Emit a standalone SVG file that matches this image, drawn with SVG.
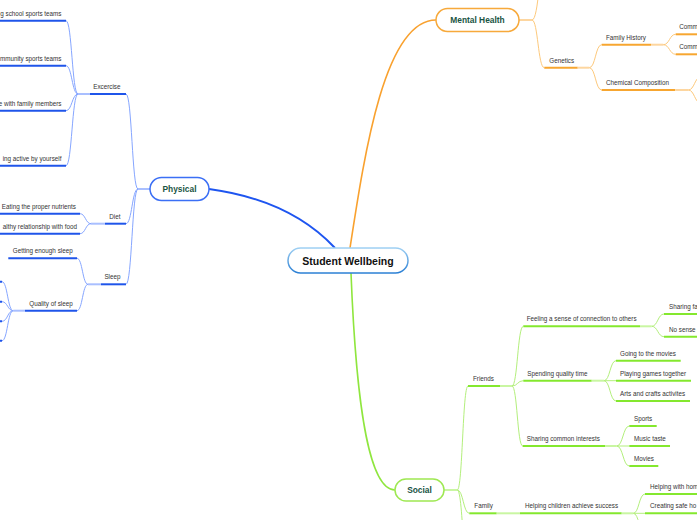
<svg xmlns="http://www.w3.org/2000/svg" width="697" height="520" viewBox="0 0 697 520">
<defs>
<linearGradient id="cg" x1="0" y1="0" x2="0" y2="1">
<stop offset="0" stop-color="#9fd0f3"/>
<stop offset="1" stop-color="#2a7fd4"/>
</linearGradient>
</defs>
<style>
.t{font-family:"Liberation Sans",Arial,sans-serif;font-size:6.3px;fill:#333}
.e{text-anchor:end}
.m{font-family:"Liberation Sans",Arial,sans-serif;font-size:8.4px;font-weight:bold;fill:#1a5443;text-anchor:middle}
.c{font-family:"Liberation Sans",Arial,sans-serif;font-size:10.5px;font-weight:bold;fill:#111;text-anchor:middle}
path,line{fill:none}
.pc{stroke:#86a6ff;stroke-width:1}
.pu{stroke:#1f55ea;stroke-width:2}
.pl{stroke:#a9bfff;stroke-width:2}
.oc{stroke:#fdc97c;stroke-width:1}
.ou{stroke:#f7a630;stroke-width:2}
.ol{stroke:#fdd6a0;stroke-width:2}
.gc{stroke:#b3ef7c;stroke-width:1}
.gu{stroke:#84e82e;stroke-width:2}
.gl{stroke:#c9f6a2;stroke-width:2}
</style>
<rect width="697" height="520" fill="#fff"/>
<g id="connectors">
<path d="M335,248 Q290,200 209,189" stroke="#1e55f0" stroke-width="2"/>
<path d="M350,248 C365,150 385,20 436,20" stroke="#f9a12e" stroke-width="1.6"/>
<path d="M351,273 C356,400 368,490 395,490" stroke="#8fe63e" stroke-width="1.6"/>
<line class="pl" x1="150" y1="189" x2="138" y2="189"/>
<path class="pc" d="M138,189 C132,189 132,94 126,94"/>
<path class="pc" d="M138,189 C132,189 132,223.7 126,223.7"/>
<path class="pc" d="M138,189 C132,189 132,284.3 126,284.3"/>
<path class="pc" d="M78,94 C72,94 72,20.7 66,20.7"/>
<path class="pc" d="M78,94 C72,94 72,65.7 66,65.7"/>
<path class="pc" d="M78,94 C72,94 72,110.7 66,110.7"/>
<path class="pc" d="M78,94 C72,94 72,165.7 66,165.7"/>
<path class="pc" d="M91,223.7 C85.5,223.7 85.5,213.7 80,213.7"/>
<path class="pc" d="M91,223.7 C85.5,223.7 85.5,233.7 80,233.7"/>
<path class="pc" d="M88,284.3 C82.5,284.3 82.5,258.3 77,258.3"/>
<path class="pc" d="M88,284.3 C82.5,284.3 82.5,310.7 77,310.7"/>
<path class="pc" d="M13.3,310.7 C7.6,310.7 7.6,281.7 2,281.7"/>
<path class="pc" d="M13.3,310.7 C7.6,310.7 7.6,301.7 2,301.7"/>
<path class="pc" d="M13.3,310.7 C7.6,310.7 7.6,321.3 2,321.3"/>
<path class="pc" d="M13.3,310.7 C7.6,310.7 7.6,340.7 2,340.7"/>
<line class="ol" x1="519" y1="20" x2="532" y2="20"/>
<path class="oc" d="M532,20 C538,20 538,67.7 544.3,67.7"/>
<path class="oc" d="M532,20 C539,20 539,-40 546,-40"/>
<path class="oc" d="M589.3,67.7 C595.5,67.7 595.5,44.7 601.7,44.7"/>
<path class="oc" d="M589.3,67.7 C595.5,67.7 595.5,90 601.7,90"/>
<path class="oc" d="M663.3,44.7 C669.5,44.7 669.5,34.3 675.7,34.3"/>
<path class="oc" d="M663.3,44.7 C669.5,44.7 669.5,54.3 675.7,54.3"/>
<path class="oc" d="M688.3,90 C694.5,90 694.5,77 701,77"/>
<path class="oc" d="M688.3,90 C694.5,90 694.5,103 701,103"/>
<line class="gl" x1="444" y1="490" x2="457.3" y2="490"/>
<path class="gc" d="M457.3,490 C462.6,490 462.6,386 468,386"/>
<path class="gc" d="M457.3,490 C463.3,490 463.3,513.3 469.3,513.3"/>
<path class="gc" d="M457.3,490 C463.6,490 463.6,600 470,600"/>
<path class="gc" d="M512,386 C517.6,386 517.6,326.3 523.3,326.3"/>
<path class="gc" d="M512,386 C517.6,386 517.6,380.7 523.3,380.7"/>
<path class="gc" d="M512,386 C517.3,386 517.3,446 522.7,446"/>
<path class="gc" d="M651.7,326.3 C657.8,326.3 657.8,314 664,314"/>
<path class="gc" d="M651.7,326.3 C657.8,326.3 657.8,336.7 664,336.7"/>
<path class="gc" d="M604,380.7 C610,380.7 610,360.7 616,360.7"/>
<path class="gc" d="M604,380.7 L616,380.7"/>
<path class="gc" d="M604,380.7 C610,380.7 610,401 616,401"/>
<path class="gc" d="M616.7,446 C623,446 623,426 629.3,426"/>
<path class="gc" d="M616.7,446 L629.3,446"/>
<path class="gc" d="M616.7,446 C623,446 623,466 629.3,466"/>
<path class="gc" d="M633.3,513.3 C639,513.3 639,494 645,494"/>
<path class="gc" d="M633.3,513.3 L645,513.3"/>
<path class="gc" d="M633.3,513.3 C639,513.3 639,533 645,533"/>
</g>
<g id="central">
<rect x="288" y="248" width="120" height="25" rx="12.5" fill="#fff" stroke="url(#cg)" stroke-width="1.5"/>
<text class="c" x="348" y="264.5">Student Wellbeing</text>
</g>
<g id="physical">
<rect x="150" y="177.5" width="59" height="23" rx="11.5" fill="#fff" stroke="#3b6ff5" stroke-width="1.5"/>
<text class="m" x="179.5" y="192">Physical</text>
</g>
<g id="mental-health">
<rect x="436" y="8.5" width="83" height="23" rx="11.5" fill="#fff" stroke="#f7a93b" stroke-width="1.5"/>
<text class="m" x="477.5" y="23">Mental Health</text>
</g>
<g id="social">
<rect x="395" y="479" width="49" height="22" rx="11" fill="#fff" stroke="#9ee852" stroke-width="1.5"/>
<text class="m" x="419.5" y="493">Social</text>
</g>
<g id="excercise">
<line class="pl" x1="78" y1="94" x2="90" y2="94"/><line class="pu" x1="90" y1="94" x2="126" y2="94"/>
<text class="t e" x="120.5" y="89">Excercise</text>
</g>
<g id="ex-1"><line class="pu" x1="-5" y1="20.7" x2="66" y2="20.7"/><text class="t e" x="61.5" y="15.7">g school sports teams</text></g>
<g id="ex-2"><line class="pu" x1="-5" y1="65.7" x2="66" y2="65.7"/><text class="t e" x="61.5" y="60.7">mmunity sports teams</text></g>
<g id="ex-3"><line class="pu" x1="-5" y1="110.7" x2="66" y2="110.7"/><text class="t e" x="61.5" y="105.7">e with family members</text></g>
<g id="ex-4"><line class="pu" x1="-5" y1="165.7" x2="66" y2="165.7"/><text class="t e" x="61.5" y="160.7">ing active by yourself</text></g>
<g id="diet">
<line class="pl" x1="91" y1="223.7" x2="105" y2="223.7"/><line class="pu" x1="105" y1="223.7" x2="126" y2="223.7"/>
<text class="t e" x="120.5" y="218.7">Diet</text>
</g>
<g id="diet-1"><line class="pu" x1="-5" y1="213.7" x2="80" y2="213.7"/><text class="t e" x="76" y="208.7">Eating the proper nutrients</text></g>
<g id="diet-2"><line class="pu" x1="-5" y1="233.7" x2="80" y2="233.7"/><text class="t e" x="77" y="228.7">althy relationship with food</text></g>
<g id="sleep">
<line class="pl" x1="88" y1="284.3" x2="101" y2="284.3"/><line class="pu" x1="101" y1="284.3" x2="126" y2="284.3"/>
<text class="t e" x="120.5" y="279.3">Sleep</text>
</g>
<g id="sleep-1"><line class="pu" x1="8.3" y1="258.3" x2="77" y2="258.3"/><text class="t e" x="72.7" y="253.3">Getting enough sleep</text></g>
<g id="sleep-2">
<line class="pl" x1="13.3" y1="310.7" x2="25" y2="310.7"/><line class="pu" x1="25" y1="310.7" x2="77" y2="310.7"/>
<text class="t e" x="72.7" y="305.7">Quality of sleep</text>
</g>
<g id="quality-children">
<line class="pu" x1="-5" y1="281.7" x2="2" y2="281.7"/>
<line class="pu" x1="-5" y1="301.7" x2="2" y2="301.7"/>
<line class="pu" x1="-5" y1="321.3" x2="2" y2="321.3"/>
<line class="pu" x1="-5" y1="340.7" x2="2" y2="340.7"/>
</g>
<g id="genetics">
<line class="ou" x1="544.3" y1="67.7" x2="577.7" y2="67.7"/><line class="ol" x1="577.7" y1="67.7" x2="589.3" y2="67.7"/>
<text class="t" x="549.3" y="62.7">Genetics</text>
</g>
<g id="family-history">
<line class="ou" x1="601.7" y1="44.7" x2="651" y2="44.7"/><line class="ol" x1="651" y1="44.7" x2="663.3" y2="44.7"/>
<text class="t" x="606" y="39.7">Family History</text>
</g>
<g id="fh-1"><line class="ou" x1="675.7" y1="34.3" x2="702" y2="34.3"/><text class="t" x="679.3" y="29.3">Comm</text></g>
<g id="fh-2"><line class="ou" x1="675.7" y1="54.3" x2="702" y2="54.3"/><text class="t" x="679.3" y="49.3">Comm</text></g>
<g id="chemical">
<line class="ou" x1="601.7" y1="90" x2="675.3" y2="90"/><line class="ol" x1="675.3" y1="90" x2="688.3" y2="90"/>
<text class="t" x="606" y="85">Chemical Composition</text>
</g>
<g id="friends">
<line class="gu" x1="468" y1="386" x2="500" y2="386"/><line class="gl" x1="500" y1="386" x2="512" y2="386"/>
<text class="t" x="473" y="381">Friends</text>
</g>
<g id="feeling">
<line class="gu" x1="523.3" y1="326.3" x2="640" y2="326.3"/><line class="gl" x1="640" y1="326.3" x2="651.7" y2="326.3"/>
<text class="t" x="526.7" y="321.3">Feeling a sense of connection to others</text>
</g>
<g id="feel-1"><line class="gu" x1="664" y1="314" x2="702" y2="314"/><text class="t" x="669" y="309">Sharing fa</text></g>
<g id="feel-2"><line class="gu" x1="664" y1="336.7" x2="702" y2="336.7"/><text class="t" x="669" y="331.7">No sense o</text></g>
<g id="spending">
<line class="gu" x1="523.3" y1="380.7" x2="591.7" y2="380.7"/><line class="gl" x1="591.7" y1="380.7" x2="604" y2="380.7"/>
<text class="t" x="527.3" y="375.7">Spending quality time</text>
</g>
<g id="sp-1"><line class="gu" x1="616" y1="360.7" x2="680.7" y2="360.7"/><text class="t" x="620" y="355.7">Going to the movies</text></g>
<g id="sp-2"><line class="gu" x1="616" y1="380.7" x2="691" y2="380.7"/><text class="t" x="620" y="375.7">Playing games together</text></g>
<g id="sp-3"><line class="gu" x1="616" y1="401" x2="690" y2="401"/><text class="t" x="620" y="396">Arts and crafts activites</text></g>
<g id="sharing">
<line class="gu" x1="522.7" y1="446" x2="605" y2="446"/><line class="gl" x1="605" y1="446" x2="616.7" y2="446"/>
<text class="t" x="526.7" y="441">Sharing common interests</text>
</g>
<g id="sh-1"><line class="gu" x1="629.3" y1="426" x2="656.7" y2="426"/><text class="t" x="634" y="421">Sports</text></g>
<g id="sh-2"><line class="gu" x1="629.3" y1="446" x2="670" y2="446"/><text class="t" x="634" y="441">Music taste</text></g>
<g id="sh-3"><line class="gu" x1="629.3" y1="466" x2="658.3" y2="466"/><text class="t" x="634" y="461">Movies</text></g>
<g id="family">
<line class="gu" x1="469.3" y1="513.3" x2="496.7" y2="513.3"/><line class="gl" x1="496.7" y1="513.3" x2="520" y2="513.3"/>
<text class="t" x="474.3" y="508.3">Family</text>
</g>
<g id="helping">
<line class="gu" x1="520" y1="513.3" x2="621.7" y2="513.3"/><line class="gl" x1="621.7" y1="513.3" x2="633.3" y2="513.3"/>
<text class="t" x="525" y="508.3">Helping children achieve success</text>
</g>
<g id="hp-1"><line class="gu" x1="645" y1="494" x2="702" y2="494"/><text class="t" x="650" y="489">Helping with hom</text></g>
<g id="hp-2"><line class="gu" x1="645" y1="513.3" x2="702" y2="513.3"/><text class="t" x="650" y="508.3">Creating safe ho</text></g>
</svg>
